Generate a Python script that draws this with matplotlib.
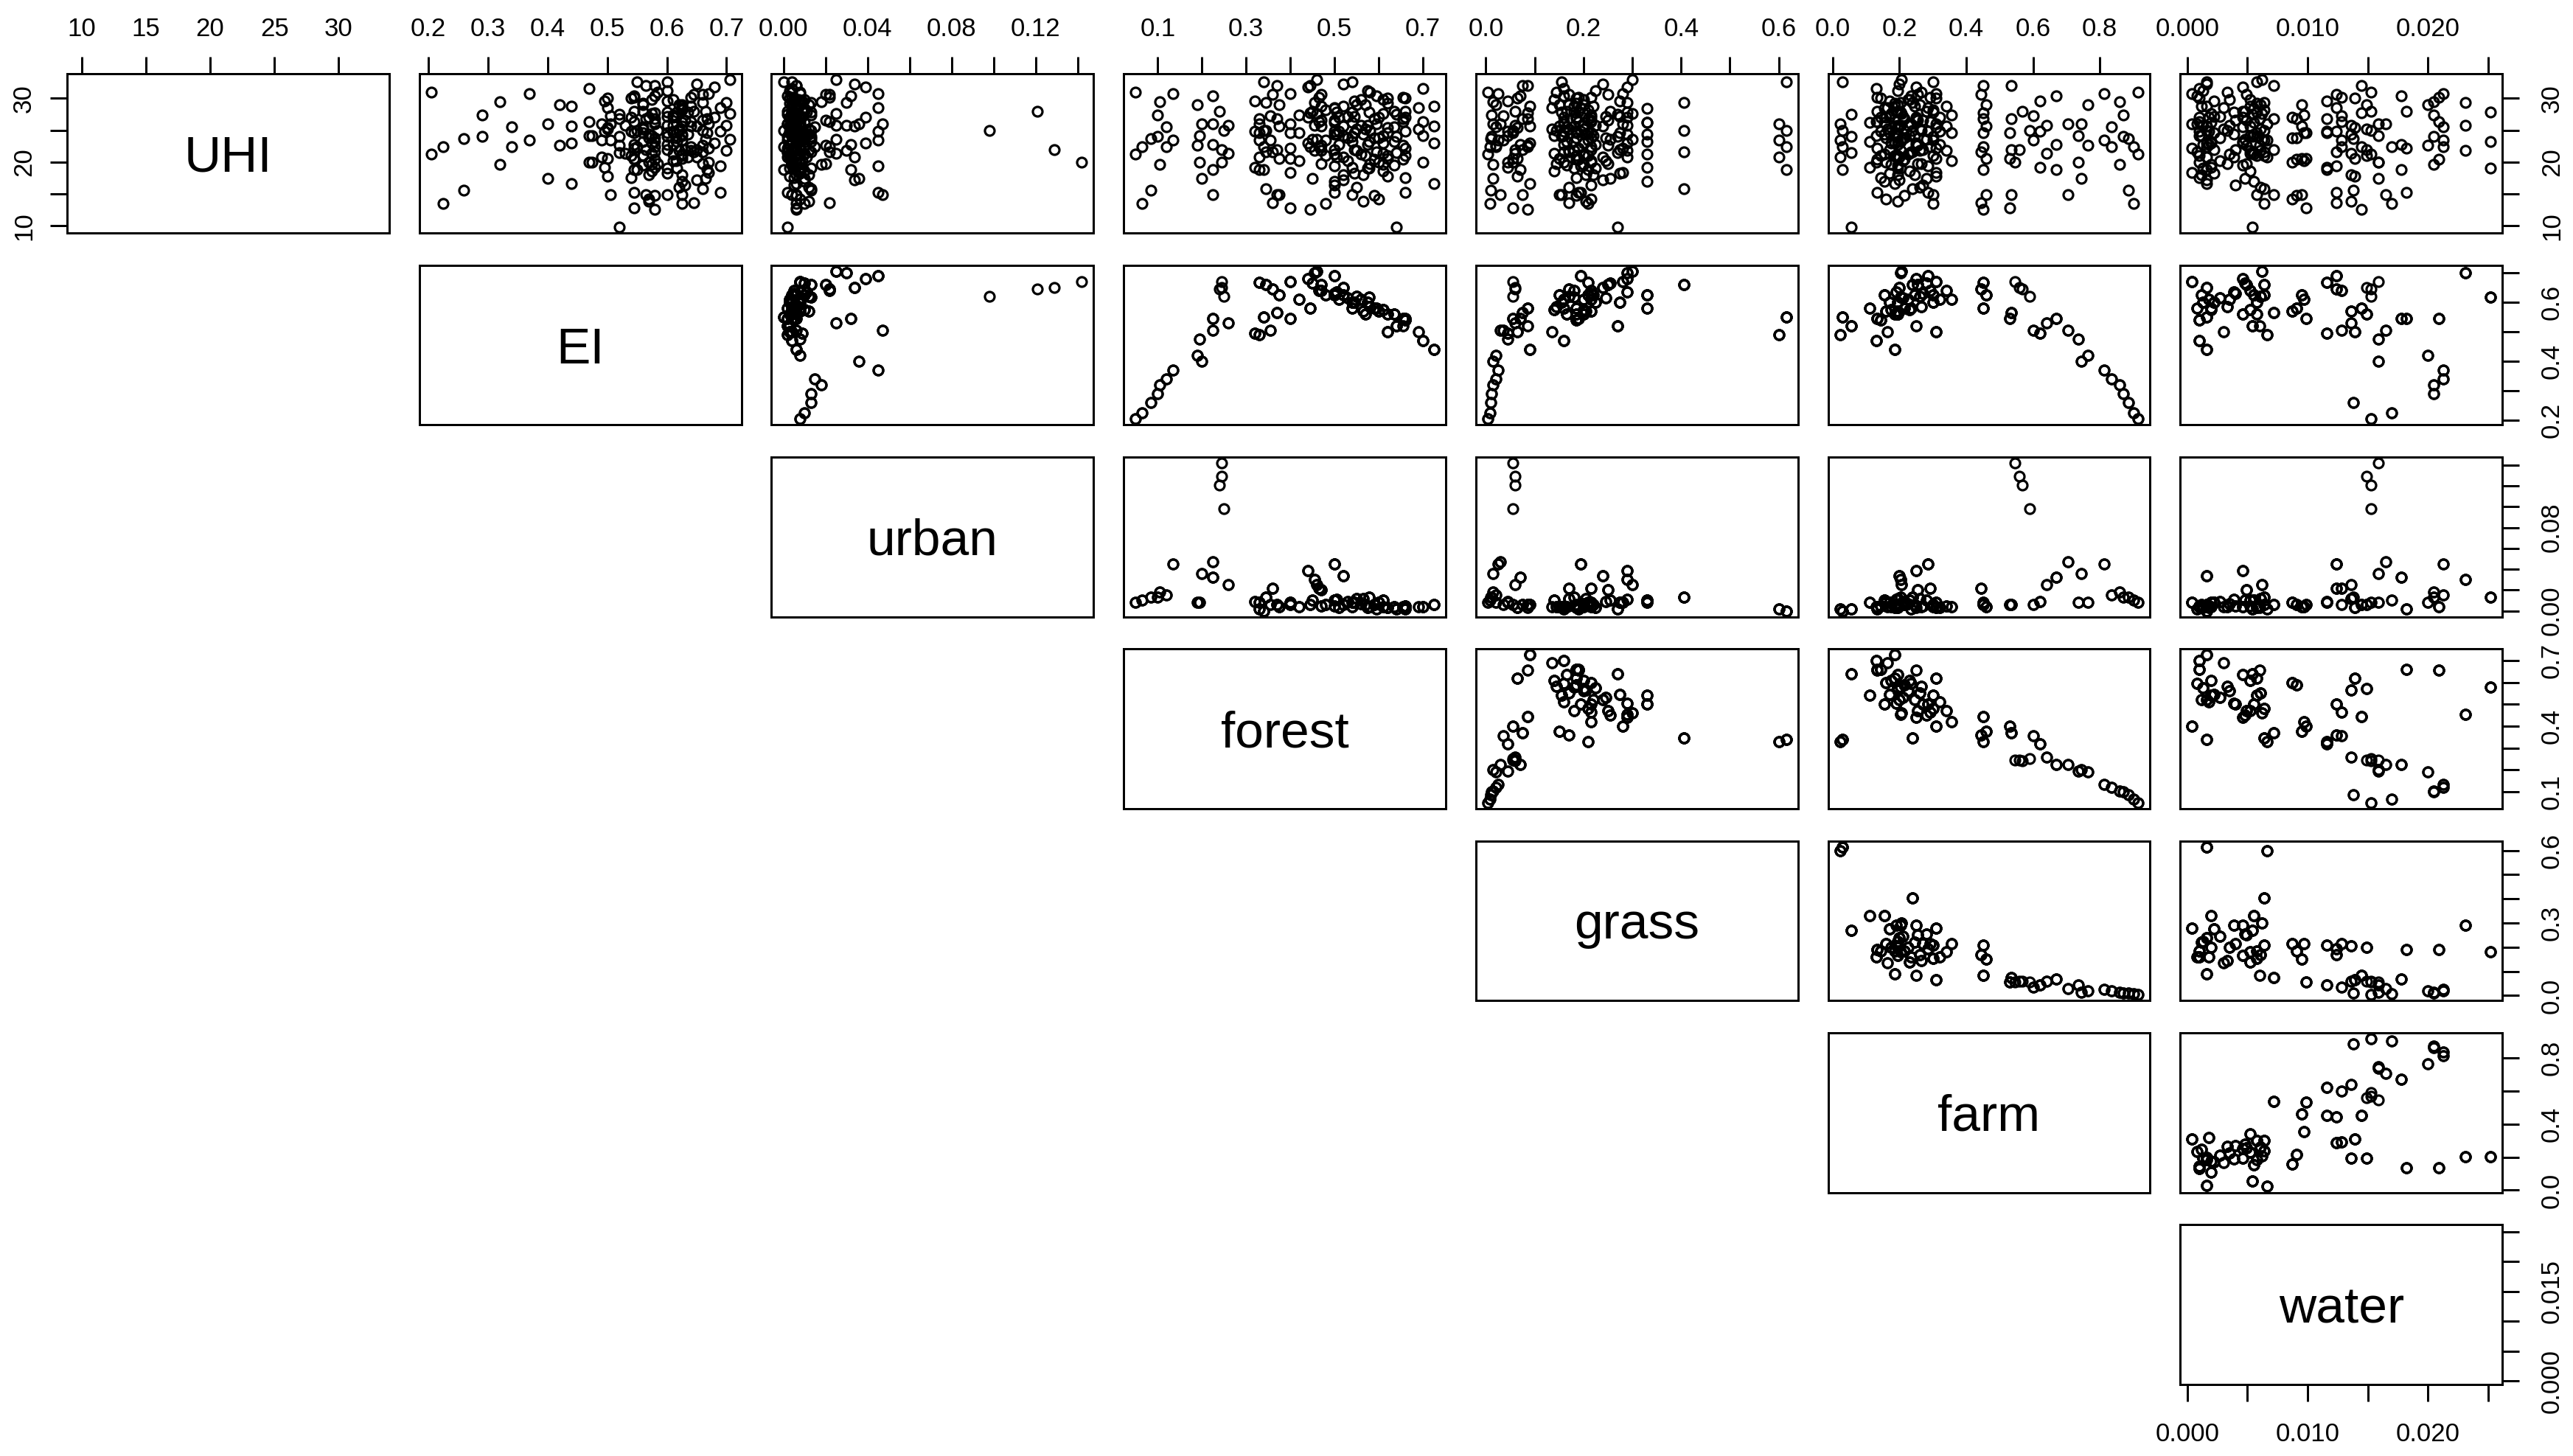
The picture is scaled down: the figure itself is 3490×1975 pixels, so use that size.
import numpy as np
import matplotlib
matplotlib.use("Agg")
import matplotlib.pyplot as plt

plt.rcParams["font.family"] = ["Liberation Sans", "DejaVu Sans"]

var_names = ["UHI", "EI", "urban", "forest", "grass", "farm", "water"]

# land-use shares per site
site_farm = [0.030, 0.022,
             0.056, 0.130, 0.185, 0.145, 0.195, 0.170, 0.215, 0.195, 0.155, 0.205, 0.260, 0.255,
             0.300, 0.310, 0.300, 0.310, 0.355, 0.240, 0.250, 0.285, 0.293, 0.200, 0.160, 0.230,
             0.450, 0.460, 0.450, 0.445, 0.535, 0.530, 0.600, 0.620, 0.545, 0.560, 0.567, 0.589,
             0.670, 0.640,
             0.705, 0.735, 0.745, 0.764, 0.812, 0.834, 0.860, 0.871, 0.885, 0.900, 0.915,
             0.203, 0.203, 0.134, 0.134, 0.195, 0.195,
             0.175, 0.225, 0.245, 0.270, 0.210, 0.185, 0.265, 0.320, 0.280, 0.235, 0.190, 0.250,
             0.165, 0.110, 0.340]
site_forest = [0.340, 0.330,
               0.640, 0.700, 0.725, 0.660, 0.635, 0.545, 0.590, 0.575, 0.500, 0.460, 0.550, 0.470,
               0.540, 0.620, 0.480, 0.400, 0.420, 0.345, 0.440, 0.500, 0.465, 0.520, 0.600, 0.610,
               0.445, 0.375, 0.330, 0.360, 0.370, 0.400, 0.355, 0.320, 0.245, 0.245, 0.240, 0.250,
               0.225, 0.260,
               0.225, 0.195, 0.200, 0.190, 0.135, 0.120, 0.105, 0.100, 0.085, 0.065, 0.050,
               0.455, 0.578, 0.660, 0.655, 0.565, 0.570,
               0.610, 0.560, 0.520, 0.500, 0.530, 0.620, 0.580, 0.510, 0.450, 0.595, 0.505, 0.655,
               0.690, 0.540, 0.470]
site_grass = [0.615, 0.600,
              0.270, 0.160, 0.090, 0.185, 0.165, 0.275, 0.185, 0.225, 0.330, 0.300, 0.170, 0.250,
              0.155, 0.065, 0.210, 0.280, 0.215, 0.405, 0.290, 0.195, 0.215, 0.240, 0.215, 0.140,
              0.085, 0.150, 0.210, 0.170, 0.075, 0.055, 0.035, 0.045, 0.055, 0.060, 0.060, 0.055,
              0.070, 0.060,
              0.030, 0.045, 0.015, 0.020, 0.025, 0.020, 0.015, 0.012, 0.010, 0.008, 0.004,
              0.290, 0.180, 0.190, 0.190, 0.205, 0.200,
              0.200, 0.200, 0.220, 0.215, 0.245, 0.185, 0.145, 0.160, 0.255, 0.160, 0.290, 0.085,
              0.135, 0.330, 0.180]
site_urban = [0.000, 0.002,
              0.002, 0.004, 0.006, 0.005, 0.004, 0.008, 0.006, 0.003, 0.010, 0.025, 0.012, 0.020,
              0.004, 0.003, 0.006, 0.008, 0.004, 0.013, 0.039, 0.045, 0.022, 0.034, 0.008, 0.010,
              0.006, 0.004, 0.008, 0.022, 0.006, 0.006, 0.006, 0.009, 0.142, 0.129, 0.121, 0.098,
              0.032, 0.025,
              0.047, 0.008, 0.036, 0.008, 0.045, 0.015, 0.018, 0.013, 0.013, 0.010, 0.008,
              0.030, 0.013, 0.002, 0.004, 0.012, 0.006,
              0.004, 0.007, 0.006, 0.005, 0.009, 0.003, 0.004, 0.003, 0.010, 0.002, 0.011, 0.003,
              0.004, 0.008, 0.005]
site_water = [0.0016, 0.0066,
              0.0054, 0.0010, 0.0016, 0.0010, 0.0046, 0.0022, 0.0091, 0.0013, 0.0055, 0.0062,
              0.0061, 0.0049, 0.0058, 0.0139, 0.0064, 0.0004, 0.0097, 0.0064, 0.0046, 0.0124,
              0.0128, 0.0016, 0.0087, 0.0052,
              0.0145, 0.0095, 0.0116, 0.0124, 0.0072, 0.0099, 0.0128, 0.0116, 0.0159, 0.0149,
              0.0153, 0.0153, 0.0178, 0.0136,
              0.0165, 0.0159, 0.0159, 0.0200, 0.0213, 0.0213, 0.0205, 0.0205, 0.0138, 0.0170, 0.0153,
              0.0231, 0.0252, 0.0182, 0.0209, 0.0136, 0.0149,
              0.0020, 0.0035, 0.0012, 0.0040, 0.0027, 0.0058, 0.0033, 0.0018, 0.0048, 0.0008,
              0.0039, 0.0060, 0.0030, 0.0020, 0.0052]
site_ei = [0.550, 0.490,
           0.520, 0.470, 0.440, 0.540, 0.560, 0.600, 0.580, 0.600, 0.625, 0.705, 0.620, 0.660,
           0.600, 0.500, 0.625, 0.670, 0.610, 0.660, 0.680, 0.690, 0.640, 0.650, 0.570, 0.575,
           0.580, 0.625, 0.667, 0.645, 0.565, 0.545, 0.505, 0.495, 0.670, 0.650, 0.645, 0.620,
           0.545, 0.530,
           0.505, 0.475, 0.400, 0.420, 0.370, 0.340, 0.320, 0.290, 0.260, 0.225, 0.205,
           0.700, 0.617, 0.545, 0.545, 0.570, 0.560,
           0.575, 0.610, 0.625, 0.630, 0.615, 0.560, 0.585, 0.610, 0.665, 0.580, 0.635, 0.520,
           0.500, 0.580, 0.640]

# UHI observations for each site
uhi_by_site = [
    [25.0, 22.4, 18.8, 32.6], [20.8, 26.0, 23.5],
    [9.8, 24.0, 21.5, 27.5], [26.4, 24.2, 31.5, 20.0], [16.6, 28.8, 23.0, 25.6],
    [30.0, 27.0, 21.0, 17.5, 24.8], [25.5, 19.5, 28.0, 23.2], [27.2, 22.0, 18.2, 29.6, 24.6],
    [26.8, 23.8, 20.5, 14.8], [31.2, 25.8, 22.8, 19.0], [28.4, 24.4, 21.2, 26.2, 17.0],
    [33.0, 27.6, 23.6], [25.2, 21.8, 29.0, 16.0], [30.6, 26.6, 22.6, 19.8],
    [32.6, 27.8, 24.0, 14.9], [30.0, 25.4, 20.6, 17.8], [28.2, 23.4, 21.0, 13.5],
    [26.0, 22.2, 18.4, 30.8], [24.6, 20.2, 27.4], [29.4, 25.0, 15.8, 21.6],
    [31.8, 27.0, 23.0], [28.6, 24.8, 19.4, 15.2], [26.4, 22.4, 30.2],
    [32.2, 25.6, 20.8, 17.2], [27.0, 23.8, 14.2, 20.0], [29.8, 24.2, 21.4, 18.6],
    [32.0, 27.7, 22.4, 12.6], [25.6, 20.6, 14.9, 29.0], [24.6, 18.8, 26.8],
    [30.6, 21.6, 13.6], [32.0, 26.8, 22.0, 14.9], [24.6, 20.6, 12.8], [27.3, 23.5],
    [24.8, 19.2, 29.6], [20.0], [22.0], [28.0], [25.0],
    [22.8, 18.8, 30.4], [25.8, 21.4],
    [14.9, 26.0], [24.2, 20.0], [26.0, 17.4], [29.0, 22.6], [30.8, 23.4], [25.5, 22.4],
    [29.5, 19.6], [27.4, 24.0], [23.7, 15.6], [22.4, 13.5], [31.0, 21.2],
    [25.8, 21.8, 29.4], [27.8, 23.2, 19.0], [28.0, 22.2, 15.2], [26.4, 30.2, 20.4],
    [24.4, 18.0, 13.8], [29.0, 25.2, 21.0],
    [27.6, 23.0, 19.6], [25.8, 21.2, 29.8], [24.2, 28.8, 18.0], [26.6, 22.0, 16.4],
    [23.8, 27.2, 20.2], [29.2, 24.6, 21.0], [25.0, 19.8, 31.0], [27.0, 22.8, 24.8],
    [28.0, 23.6, 17.4], [26.0, 21.6, 30.4], [24.4, 20.8, 27.8], [22.6, 26.8],
    [28.6, 25.2], [23.2, 26.2, 19.2], [25.6, 21.8, 28.8],
]

tick_vals = {
    "UHI": [10, 15, 20, 25, 30],
    "EI": [0.2, 0.3, 0.4, 0.5, 0.6, 0.7],
    "urban": [0.0, 0.02, 0.04, 0.06, 0.08, 0.10, 0.12, 0.14],
    "forest": [0.1, 0.2, 0.3, 0.4, 0.5, 0.6, 0.7],
    "grass": [0.0, 0.1, 0.2, 0.3, 0.4, 0.5, 0.6],
    "farm": [0.0, 0.2, 0.4, 0.6, 0.8],
    "water": [0.0, 0.005, 0.010, 0.015, 0.020, 0.025],
}
xtick_text = {
    "UHI": ["10", "15", "20", "25", "30"],
    "EI": ["0.2", "0.3", "0.4", "0.5", "0.6", "0.7"],
    "urban": ["0.00", "", "0.04", "", "0.08", "", "0.12", ""],
    "forest": ["0.1", "", "0.3", "", "0.5", "", "0.7"],
    "grass": ["0.0", "", "0.2", "", "0.4", "", "0.6"],
    "farm": ["0.0", "0.2", "0.4", "0.6", "0.8"],
    "water": ["0.000", "", "0.010", "", "0.020", ""],
}
ytick_text = {
    "UHI": ["10", "", "20", "", "30"],
    "EI": ["0.2", "", "0.4", "", "0.6", ""],
    "urban": ["0.00", "", "", "", "0.08", "", "", ""],
    "forest": ["0.1", "", "", "0.4", "", "", "0.7"],
    "grass": ["0.0", "", "", "0.3", "", "", "0.6"],
    "farm": ["0.0", "", "0.4", "", "0.8"],
    "water": ["0.000", "", "", "0.015", "", ""],
}

counts = [len(u) for u in uhi_by_site]
data = {
    "UHI": np.concatenate([np.array(u) for u in uhi_by_site]),
    "EI": np.repeat(site_ei, counts),
    "urban": np.repeat(site_urban, counts),
    "forest": np.repeat(site_forest, counts),
    "grass": np.repeat(site_grass, counts),
    "farm": np.repeat(site_farm, counts),
    "water": np.repeat(site_water, counts),
}


def pad_range(v):
    lo, hi = v.min(), v.max()
    d = 0.04 * (hi - lo)
    return lo - d, hi + d


W, H = 3490, 1975
PT = 0.72  # points per pixel at dpi 100
fig = plt.figure(figsize=(W / 100, H / 100), dpi=100)
fig.patch.set_facecolor("white")

left0, top0 = 91, 99.5
pw, ph = 437, 216.5
dx, dy = 477.7, 260.3
n = len(var_names)

for i in range(n):
    for j in range(i, n):
        L = left0 + j * dx
        T = top0 + i * dy
        ax = fig.add_axes([L / W, 1 - (T + ph) / H, pw / W, ph / H])
        xv, yv = var_names[j], var_names[i]
        ax.set_xlim(pad_range(data[xv]))
        ax.set_ylim(pad_range(data[yv]))
        for s in ax.spines.values():
            s.set_linewidth(3 * PT)

        if i == j:
            ax.text(0.5, 0.47, xv, transform=ax.transAxes, ha="center",
                    va="center", fontsize=50)
        else:
            ax.plot(data[xv], data[yv], "o", ls="none", mfc="none", mec="black",
                    ms=13 * PT, mew=3.2 * PT)

        ax.tick_params(direction="out", length=23 * PT, width=3 * PT,
                       labelsize=25, color="black")

        # x axis: top on the first row, bottom only for the last diagonal cell
        if i == 0 or (i == n - 1 and j == n - 1):
            ax.set_xticks(tick_vals[xv])
            ax.set_xticklabels(xtick_text[xv])
            if i == 0:
                ax.xaxis.tick_top()
                ax.tick_params(axis="x", pad=14.6)
            else:
                ax.xaxis.tick_bottom()
                ax.tick_params(axis="x", pad=20.5)
        else:
            ax.set_xticks([])

        # y axis: right on the last column, left only for the first cell
        if j == n - 1 or (i == 0 and j == 0):
            ax.set_yticks(tick_vals[yv])
            ax.set_yticklabels(ytick_text[yv], rotation=90, va="center")
            if j == n - 1:
                ax.yaxis.tick_right()
                ax.tick_params(axis="y", pad=20)
            else:
                ax.yaxis.tick_left()
                ax.tick_params(axis="y", pad=13.7)
        else:
            ax.set_yticks([])

fig.savefig("out.png", dpi=100, facecolor="white")
